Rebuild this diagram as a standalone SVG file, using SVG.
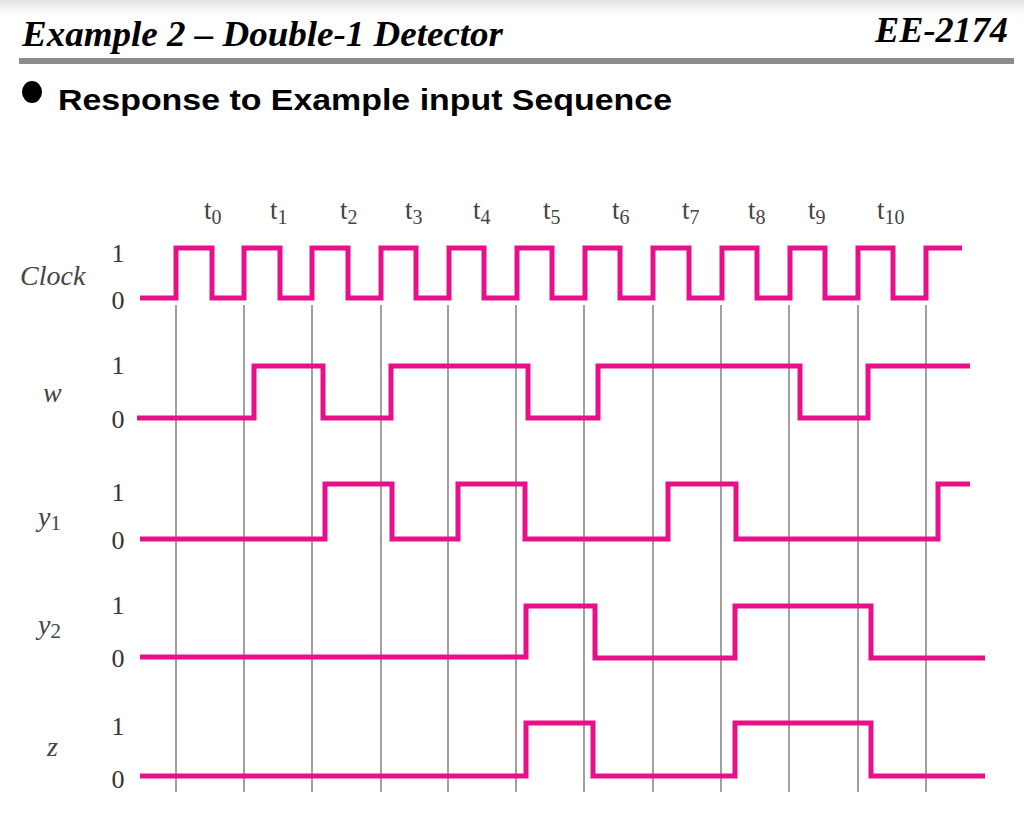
<svg xmlns="http://www.w3.org/2000/svg" width="1024" height="824" viewBox="0 0 1024 824">
<defs>
<linearGradient id="topband" x1="0" y1="0" x2="0" y2="1">
<stop offset="0" stop-color="#e4e4e4"/>
<stop offset="1" stop-color="#ffffff"/>
</linearGradient>
<style>
.title{font-family:"Liberation Serif",serif;font-weight:bold;font-style:italic;font-size:35px;fill:#000}
.head{font-family:"Liberation Sans",Arial,sans-serif;font-weight:bold;font-size:30px;fill:#000}
.lvl{font-family:"Liberation Serif",serif;font-size:26px;fill:#333;text-anchor:middle}
.sig{font-family:"Liberation Serif",serif;font-style:italic;font-size:28px;fill:#444}
.tk{font-family:"Liberation Serif",serif;font-size:27px;fill:#444}
.grid line{stroke:#a0a0a0;stroke-width:2}
.wave{fill:none;stroke:#e8108a;stroke-width:5;stroke-linejoin:miter;stroke-linecap:butt}
</style>
</defs>
<rect x="0" y="0" width="1024" height="824" fill="#ffffff"/>
<rect x="0" y="0" width="1024" height="16" fill="url(#topband)"/>

<g id="header">
<text class="title" x="22" y="46" textLength="481" lengthAdjust="spacingAndGlyphs">Example 2 – Double-1 Detector</text>
<text class="title" x="1008" y="42" text-anchor="end" textLength="133" lengthAdjust="spacingAndGlyphs">EE-2174</text>
<rect x="19" y="58" width="995" height="6" fill="#8c8c8c"/>
<ellipse cx="32" cy="92" rx="10" ry="11" fill="#000"/>
<text class="head" x="58" y="110" textLength="614" lengthAdjust="spacingAndGlyphs">Response to Example input Sequence</text>
</g>

<g id="grid" class="grid">
<line x1="176" y1="305" x2="176" y2="792"/>
<line x1="244" y1="305" x2="244" y2="792"/>
<line x1="312" y1="305" x2="312" y2="792"/>
<line x1="381" y1="305" x2="381" y2="792"/>
<line x1="448" y1="305" x2="448" y2="792"/>
<line x1="516" y1="305" x2="516" y2="792"/>
<line x1="584" y1="305" x2="584" y2="792"/>
<line x1="653" y1="305" x2="653" y2="792"/>
<line x1="721" y1="305" x2="721" y2="792"/>
<line x1="789" y1="305" x2="789" y2="792"/>
<line x1="858" y1="305" x2="858" y2="792"/>
<line x1="926" y1="305" x2="926" y2="792"/>
</g>

<g id="ticks">
<text class="tk" x="204" y="219">t<tspan font-size="20" dy="5">0</tspan></text>
<text class="tk" x="270" y="219">t<tspan font-size="20" dy="5">1</tspan></text>
<text class="tk" x="340" y="219">t<tspan font-size="20" dy="5">2</tspan></text>
<text class="tk" x="405" y="219">t<tspan font-size="20" dy="5">3</tspan></text>
<text class="tk" x="473" y="219">t<tspan font-size="20" dy="5">4</tspan></text>
<text class="tk" x="543" y="219">t<tspan font-size="20" dy="5">5</tspan></text>
<text class="tk" x="612" y="219">t<tspan font-size="20" dy="5">6</tspan></text>
<text class="tk" x="682" y="219">t<tspan font-size="20" dy="5">7</tspan></text>
<text class="tk" x="748" y="219">t<tspan font-size="20" dy="5">8</tspan></text>
<text class="tk" x="808" y="219">t<tspan font-size="20" dy="5">9</tspan></text>
<text class="tk" x="877" y="219">t<tspan font-size="20" dy="5">10</tspan></text>
</g>

<g id="clock">
<text class="sig" x="20" y="285">Clock</text>
<text class="lvl" x="118" y="262">1</text>
<text class="lvl" x="118" y="309">0</text>
<path class="wave" d="M140,298 H176 V248 H212 V298 H244 V248 H280 V298 H312 V248 H348 V298 H381 V248 H416 V298 H449 V248 H484 V298 H517 V248 H552 V298 H585 V248 H620 V298 H653 V248 H689 V298 H722 V248 H757 V298 H790 V248 H825 V298 H858 V248 H893 V298 H926 V248 H962"/>
</g>

<g id="w">
<text class="sig" x="43" y="402">w</text>
<text class="lvl" x="118" y="374">1</text>
<text class="lvl" x="118" y="428">0</text>
<path class="wave" d="M137,418 H254 V366 H323 V418 H391 V366 H528 V418 H598 V366 H800 V418 H868 V366 H970"/>
</g>

<g id="y1">
<text class="sig" x="38" y="526">y<tspan font-style="normal" font-size="21" dy="4">1</tspan></text>
<text class="lvl" x="118" y="501">1</text>
<text class="lvl" x="118" y="549">0</text>
<path class="wave" d="M140,539 H325 V484 H392 V539 H458 V484 H525 V539 H668 V484 H736 V539 H938 V484 H970"/>
</g>

<g id="y2">
<text class="sig" x="38" y="634">y<tspan font-style="normal" font-size="21" dy="4">2</tspan></text>
<text class="lvl" x="118" y="614">1</text>
<text class="lvl" x="118" y="667">0</text>
<path class="wave" d="M140,657 H526 V606 H595 V658 H735 V606 H871 V658 H985"/>
</g>

<g id="z">
<text class="sig" x="47" y="756">z</text>
<text class="lvl" x="118" y="735">1</text>
<text class="lvl" x="118" y="788">0</text>
<path class="wave" d="M140,776 H526 V723 H593 V776 H735 V723 H871 V776 H985"/>
</g>
</svg>
